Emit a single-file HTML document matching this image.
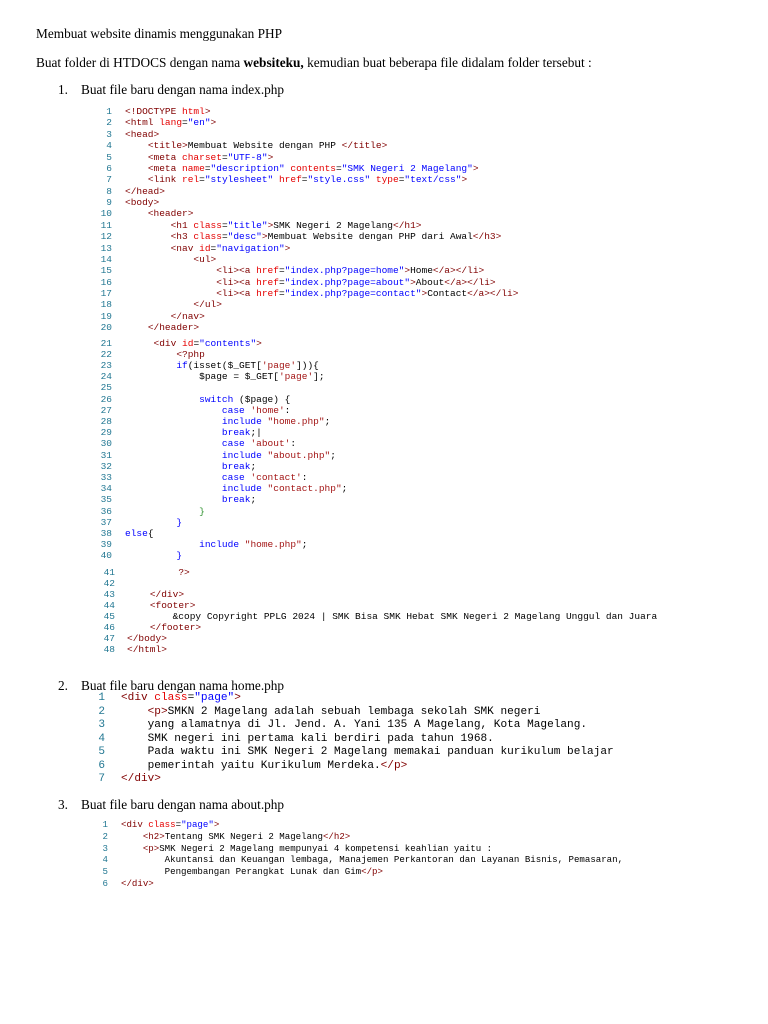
<!DOCTYPE html>
<html><head><meta charset="utf-8">
<style>
body{margin:0;width:768px;height:1024px;background:#fff;position:relative;overflow:hidden}
.t{position:absolute;font-family:"Liberation Serif",serif;font-size:13.3px;color:#000;white-space:nowrap}
.c{position:absolute;font-family:"Liberation Mono",monospace;white-space:normal;color:#000}
.c div{position:relative;white-space:pre}
.n{position:absolute;text-align:right;color:#237893}
.g{color:#800000}.a{color:#e50000}.v{color:#0000ff}.s{color:#a31515}.k{color:#0000ff}
</style></head><body>
<div class="t" style="left:36px;top:26px">Membuat website dinamis menggunakan PHP</div>
<div class="t" style="left:36px;top:55px">Buat folder di HTDOCS dengan nama <b>websiteku,</b> kemudian buat beberapa file didalam folder tersebut :</div>
<div class="t" style="left:58px;top:82px">1.</div><div class="t" style="left:81px;top:82px">Buat file baru dengan nama index.php</div>
<div class="t" style="left:58px;top:678px">2.</div><div class="t" style="left:81px;top:678px">Buat file baru dengan nama home.php</div>
<div class="t" style="left:58px;top:797px">3.</div><div class="t" style="left:81px;top:797px">Buat file baru dengan nama about.php</div>

<div class="c" style="left:0;top:106px;font-size:9.5px;line-height:11.37px">
<div><span class="n" style="left:90px;width:22px">1</span><span style="margin-left:125px"><span class="g">&lt;!DOCTYPE </span><span class="a">html</span><span class="g">&gt;</span></span></div>
<div><span class="n" style="left:90px;width:22px">2</span><span style="margin-left:125px"><span class="g">&lt;html </span><span class="a">lang</span>=<span class="v">"en"</span><span class="g">&gt;</span></span></div>
<div><span class="n" style="left:90px;width:22px">3</span><span style="margin-left:125px" class="g">&lt;head&gt;</span></div>
<div><span class="n" style="left:90px;width:22px">4</span><span style="margin-left:125px">    <span class="g">&lt;title&gt;</span>Membuat Website dengan PHP <span class="g">&lt;/title&gt;</span></span></div>
<div><span class="n" style="left:90px;width:22px">5</span><span style="margin-left:125px">    <span class="g">&lt;meta </span><span class="a">charset</span>=<span class="v">"UTF-8"</span><span class="g">&gt;</span></span></div>
<div><span class="n" style="left:90px;width:22px">6</span><span style="margin-left:125px">    <span class="g">&lt;meta </span><span class="a">name</span>=<span class="v">"description"</span> <span class="a">contents</span>=<span class="v">"SMK Negeri 2 Magelang"</span><span class="g">&gt;</span></span></div>
<div><span class="n" style="left:90px;width:22px">7</span><span style="margin-left:125px">    <span class="g">&lt;link </span><span class="a">rel</span>=<span class="v">"stylesheet"</span> <span class="a">href</span>=<span class="v">"style.css"</span> <span class="a">type</span>=<span class="v">"text/css"</span><span class="g">&gt;</span></span></div>
<div><span class="n" style="left:90px;width:22px">8</span><span style="margin-left:125px" class="g">&lt;/head&gt;</span></div>
<div><span class="n" style="left:90px;width:22px">9</span><span style="margin-left:125px" class="g">&lt;body&gt;</span></div>
<div><span class="n" style="left:90px;width:22px">10</span><span style="margin-left:125px">    <span class="g">&lt;header&gt;</span></span></div>
<div><span class="n" style="left:90px;width:22px">11</span><span style="margin-left:125px">        <span class="g">&lt;h1 </span><span class="a">class</span>=<span class="v">"title"</span><span class="g">&gt;</span>SMK Negeri 2 Magelang<span class="g">&lt;/h1&gt;</span></span></div>
<div><span class="n" style="left:90px;width:22px">12</span><span style="margin-left:125px">        <span class="g">&lt;h3 </span><span class="a">class</span>=<span class="v">"desc"</span><span class="g">&gt;</span>Membuat Website dengan PHP dari Awal<span class="g">&lt;/h3&gt;</span></span></div>
<div><span class="n" style="left:90px;width:22px">13</span><span style="margin-left:125px">        <span class="g">&lt;nav </span><span class="a">id</span>=<span class="v">"navigation"</span><span class="g">&gt;</span></span></div>
<div><span class="n" style="left:90px;width:22px">14</span><span style="margin-left:125px">            <span class="g">&lt;ul&gt;</span></span></div>
<div><span class="n" style="left:90px;width:22px">15</span><span style="margin-left:125px">                <span class="g">&lt;li&gt;&lt;a </span><span class="a">href</span>=<span class="v">"index.php?page=home"</span><span class="g">&gt;</span>Home<span class="g">&lt;/a&gt;&lt;/li&gt;</span></span></div>
<div><span class="n" style="left:90px;width:22px">16</span><span style="margin-left:125px">                <span class="g">&lt;li&gt;&lt;a </span><span class="a">href</span>=<span class="v">"index.php?page=about"</span><span class="g">&gt;</span>About<span class="g">&lt;/a&gt;&lt;/li&gt;</span></span></div>
<div><span class="n" style="left:90px;width:22px">17</span><span style="margin-left:125px">                <span class="g">&lt;li&gt;&lt;a </span><span class="a">href</span>=<span class="v">"index.php?page=contact"</span><span class="g">&gt;</span>Contact<span class="g">&lt;/a&gt;&lt;/li&gt;</span></span></div>
<div><span class="n" style="left:90px;width:22px">18</span><span style="margin-left:125px">            <span class="g">&lt;/ul&gt;</span></span></div>
<div><span class="n" style="left:90px;width:22px">19</span><span style="margin-left:125px">        <span class="g">&lt;/nav&gt;</span></span></div>
<div><span class="n" style="left:90px;width:22px">20</span><span style="margin-left:125px">    <span class="g">&lt;/header&gt;</span></span></div>
</div>

<div class="c" style="left:0;top:337.5px;font-size:9.5px;line-height:11.2px">
<div><span class="n" style="left:90px;width:22px">21</span><span style="margin-left:125px">     <span class="g">&lt;div </span><span class="a">id</span>=<span class="v">"contents"</span><span class="g">&gt;</span></span></div>
<div><span class="n" style="left:90px;width:22px">22</span><span style="margin-left:125px">         <span class="g">&lt;?php</span></span></div>
<div><span class="n" style="left:90px;width:22px">23</span><span style="margin-left:125px">         <span class="k">if</span>(isset($_GET[<span class="s">'page'</span>])){</span></div>
<div><span class="n" style="left:90px;width:22px">24</span><span style="margin-left:125px">             $page = $_GET[<span class="s">'page'</span>];</span></div>
<div><span class="n" style="left:90px;width:22px">25</span>&nbsp;</div>
<div><span class="n" style="left:90px;width:22px">26</span><span style="margin-left:125px">             <span class="k">switch</span> ($page) {</span></div>
<div><span class="n" style="left:90px;width:22px">27</span><span style="margin-left:125px">                 <span class="k">case</span> <span class="s">'home'</span>:</span></div>
<div><span class="n" style="left:90px;width:22px">28</span><span style="margin-left:125px">                 <span class="k">include</span> <span class="s">"home.php"</span>;</span></div>
<div><span class="n" style="left:90px;width:22px">29</span><span style="margin-left:125px">                 <span class="k">break</span>;|</span></div>
<div><span class="n" style="left:90px;width:22px">30</span><span style="margin-left:125px">                 <span class="k">case</span> <span class="s">'about'</span>:</span></div>
<div><span class="n" style="left:90px;width:22px">31</span><span style="margin-left:125px">                 <span class="k">include</span> <span class="s">"about.php"</span>;</span></div>
<div><span class="n" style="left:90px;width:22px">32</span><span style="margin-left:125px">                 <span class="k">break</span>;</span></div>
<div><span class="n" style="left:90px;width:22px">33</span><span style="margin-left:125px">                 <span class="k">case</span> <span class="s">'contact'</span>:</span></div>
<div><span class="n" style="left:90px;width:22px">34</span><span style="margin-left:125px">                 <span class="k">include</span> <span class="s">"contact.php"</span>;</span></div>
<div><span class="n" style="left:90px;width:22px">35</span><span style="margin-left:125px">                 <span class="k">break</span>;</span></div>
<div><span class="n" style="left:90px;width:22px">36</span><span style="margin-left:125px">             <span style="color:#319331">}</span></span></div>
<div><span class="n" style="left:90px;width:22px">37</span><span style="margin-left:125px">         <span class="k">}</span></span></div>
<div><span class="n" style="left:90px;width:22px">38</span><span style="margin-left:125px"><span class="k">else</span>{</span></div>
<div><span class="n" style="left:90px;width:22px">39</span><span style="margin-left:125px">             <span class="k">include</span> <span class="s">"home.php"</span>;</span></div>
<div><span class="n" style="left:90px;width:22px">40</span><span style="margin-left:125px">         <span class="k">}</span></span></div>
</div>

<div class="c" style="left:0;top:566.5px;font-size:9.5px;line-height:11px">
<div><span class="n" style="left:90px;width:25px">41</span><span style="margin-left:127px">         <span class="g">?&gt;</span></span></div>
<div><span class="n" style="left:90px;width:25px">42</span>&nbsp;</div>
<div><span class="n" style="left:90px;width:25px">43</span><span style="margin-left:127px">    <span class="g">&lt;/div&gt;</span></span></div>
<div><span class="n" style="left:90px;width:25px">44</span><span style="margin-left:127px">    <span class="g">&lt;footer&gt;</span></span></div>
<div><span class="n" style="left:90px;width:25px">45</span><span style="margin-left:127px">        &amp;copy Copyright PPLG 2024 | SMK Bisa SMK Hebat SMK Negeri 2 Magelang Unggul dan Juara</span></div>
<div><span class="n" style="left:90px;width:25px">46</span><span style="margin-left:127px">    <span class="g">&lt;/footer&gt;</span></span></div>
<div><span class="n" style="left:90px;width:25px">47</span><span style="margin-left:127px" class="g">&lt;/body&gt;</span></div>
<div><span class="n" style="left:90px;width:25px">48</span><span style="margin-left:127px" class="g">&lt;/html&gt;</span></div>
</div>

<div class="c" style="left:0;top:692px;font-size:11.1px;line-height:13.5px">
<div><span class="n" style="left:90px;width:15px">1</span><span style="margin-left:121px"><span class="g">&lt;div </span><span class="a">class</span>=<span class="v">"page"</span><span class="g">&gt;</span></span></div>
<div><span class="n" style="left:90px;width:15px">2</span><span style="margin-left:121px">    <span class="g">&lt;p&gt;</span>SMKN 2 Magelang adalah sebuah lembaga sekolah SMK negeri</span></div>
<div><span class="n" style="left:90px;width:15px">3</span><span style="margin-left:121px">    yang alamatnya di Jl. Jend. A. Yani 135 A Magelang, Kota Magelang.</span></div>
<div><span class="n" style="left:90px;width:15px">4</span><span style="margin-left:121px">    SMK negeri ini pertama kali berdiri pada tahun 1968.</span></div>
<div><span class="n" style="left:90px;width:15px">5</span><span style="margin-left:121px">    Pada waktu ini SMK Negeri 2 Magelang memakai panduan kurikulum belajar</span></div>
<div><span class="n" style="left:90px;width:15px">6</span><span style="margin-left:121px">    pemerintah yaitu Kurikulum Merdeka.<span class="g">&lt;/p&gt;</span></span></div>
<div><span class="n" style="left:90px;width:15px">7</span><span style="margin-left:121px" class="g">&lt;/div&gt;</span></div>
</div>

<div class="c" style="left:0;top:819px;font-size:9.1px;line-height:11.8px">
<div><span class="n" style="left:90px;width:18px">1</span><span style="margin-left:121px"><span class="g">&lt;div </span><span class="a">class</span>=<span class="v">"page"</span><span class="g">&gt;</span></span></div>
<div><span class="n" style="left:90px;width:18px">2</span><span style="margin-left:121px">    <span class="g">&lt;h2&gt;</span>Tentang SMK Negeri 2 Magelang<span class="g">&lt;/h2&gt;</span></span></div>
<div><span class="n" style="left:90px;width:18px">3</span><span style="margin-left:121px">    <span class="g">&lt;p&gt;</span>SMK Negeri 2 Magelang mempunyai 4 kompetensi keahlian yaitu :</span></div>
<div><span class="n" style="left:90px;width:18px">4</span><span style="margin-left:121px">        Akuntansi dan Keuangan lembaga, Manajemen Perkantoran dan Layanan Bisnis, Pemasaran,</span></div>
<div><span class="n" style="left:90px;width:18px">5</span><span style="margin-left:121px">        Pengembangan Perangkat Lunak dan Gim<span class="g">&lt;/p&gt;</span></span></div>
<div><span class="n" style="left:90px;width:18px">6</span><span style="margin-left:121px" class="g">&lt;/div&gt;</span></div>
</div>
</body></html>
